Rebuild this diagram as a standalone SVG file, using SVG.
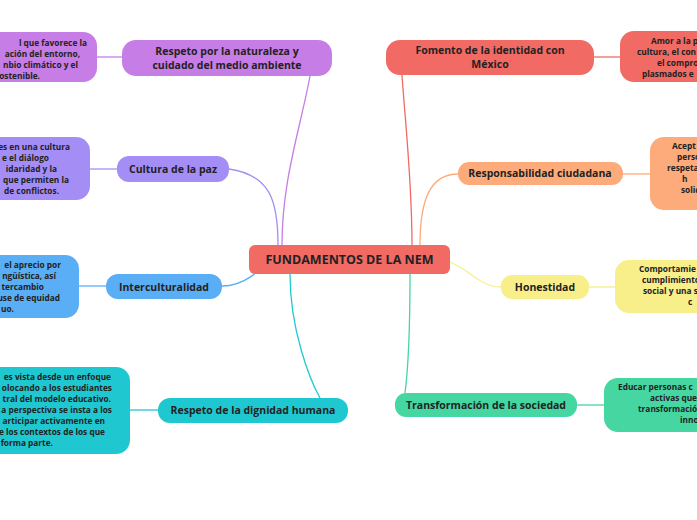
<svg xmlns="http://www.w3.org/2000/svg" width="697" height="520" viewBox="0 0 697 520">
<style>
text{font-family:"Open Sans","Noto Sans",sans-serif;font-weight:bold;fill:#222}
.t{font-size:10.5px;text-anchor:middle}
.l{font-size:8.3px}
.le{text-anchor:end}
.c{fill:none;stroke-width:1.3}
</style>
<rect width="697" height="520" fill="#fff"/>
<g id="connectors">
<path class="c" stroke="#c67de6" d="M282 245 C282 180 300 130 310 76"/>
<path class="c" stroke="#a48ef5" d="M278 245 C278 200 270 175 229 169"/>
<path class="c" stroke="#5aaef5" d="M262 274 L262 274 M270 259 C260 270 245 286 222 286"/>
<path class="c" stroke="#1fc8d0" d="M290 274 C290 330 310 380 320 398"/>
<path class="c" stroke="#f26a64" d="M412 245 C412 180 405 120 402 75"/>
<path class="c" stroke="#fdab7a" d="M420 245 C420 200 430 174 458 174"/>
<path class="c" stroke="#f8ef8a" d="M450 262 C470 270 480 287 501 287"/>
<path class="c" stroke="#45d6a2" d="M410 274 C410 330 408 370 405 393"/>
<line x1="97" y1="57" x2="122" y2="57" stroke="#c67de6" stroke-width="1.3"/>
<line x1="90" y1="169" x2="117" y2="169" stroke="#a48ef5" stroke-width="1.3"/>
<line x1="79" y1="286" x2="106" y2="286" stroke="#5aaef5" stroke-width="1.3"/>
<line x1="130" y1="410" x2="158" y2="410" stroke="#1fc8d0" stroke-width="1.3"/>
<line x1="594" y1="57" x2="620" y2="57" stroke="#f26a64" stroke-width="1.3"/>
<line x1="623" y1="174" x2="650" y2="174" stroke="#fdab7a" stroke-width="1.3"/>
<line x1="589" y1="287" x2="615" y2="287" stroke="#f8ef8a" stroke-width="1.3"/>
<line x1="577" y1="405" x2="604" y2="405" stroke="#45d6a2" stroke-width="1.3"/>
</g>
<g id="center"><rect x="249" y="245" width="201" height="29" rx="6" fill="#f26a64"/><text x="349.5" y="264" text-anchor="middle" font-size="12.5">FUNDAMENTOS DE LA NEM</text></g>
<g id="t1"><rect x="122" y="40" width="210" height="36" rx="14" fill="#c67de6"/><text class="t" x="227" y="55">Respeto por la naturaleza y</text><text class="t" x="227" y="69">cuidado del medio ambiente</text></g>
<g id="t2"><rect x="117" y="156" width="112" height="26" rx="12" fill="#a48ef5"/><text class="t" x="173" y="173">Cultura de la paz</text></g>
<g id="t3"><rect x="106" y="274" width="116" height="25" rx="12" fill="#5aaef5"/><text class="t" x="164" y="291">Interculturalidad</text></g>
<g id="t4"><rect x="158" y="398" width="190" height="25" rx="12" fill="#1fc8d0"/><text class="t" x="253" y="414">Respeto de la dignidad humana</text></g>
<g id="t5"><rect x="386" y="40" width="208" height="35" rx="14" fill="#f26a64"/><text class="t" x="490" y="54">Fomento de la identidad con</text><text class="t" x="490" y="68">México</text></g>
<g id="t6"><rect x="458" y="162" width="165" height="23" rx="11" fill="#fdab7a"/><text class="t" x="540" y="177">Responsabilidad ciudadana</text></g>
<g id="t7"><rect x="501" y="275" width="88" height="24" rx="11" fill="#f8ef8a"/><text class="t" x="545" y="291">Honestidad</text></g>
<g id="t8"><rect x="395" y="393" width="182" height="24" rx="11" fill="#45d6a2"/><text class="t" x="486" y="409">Transformación de la sociedad</text></g>
<g id="l1"><rect x="-30" y="32" width="127" height="50" rx="14" fill="#c67de6"/>
<text class="l le" x="87" y="46">l que favorece  la</text><text class="l le" x="80" y="57">ación del entorno,</text><text class="l le" x="78" y="68">nbio climático y el</text><text class="l le" x="40" y="79">ostenible.</text></g>
<g id="l2"><rect x="-30" y="137" width="120" height="63" rx="14" fill="#a48ef5"/>
<text class="l le" x="70" y="150">es en una cultura</text><text class="l le" x="49" y="161">e el diálogo</text><text class="l le" x="57" y="172">idaridad y la</text><text class="l le" x="69" y="183">que permiten la</text><text class="l le" x="59" y="194">de conflictos.</text></g>
<g id="l3"><rect x="-30" y="255" width="109" height="63" rx="14" fill="#5aaef5"/>
<text class="l le" x="61" y="268">el aprecio por</text><text class="l le" x="56" y="279">ngüística, así</text><text class="l le" x="44" y="290">tercambio</text><text class="l le" x="60" y="301">use de equidad</text><text class="l le" x="14" y="312">uo.</text></g>
<g id="l4"><rect x="-30" y="367" width="160" height="87" rx="14" fill="#1fc8d0"/>
<text class="l le" x="111" y="380">es vista desde un enfoque</text><text class="l le" x="112" y="391">olocando a los estudiantes</text><text class="l le" x="111" y="402">tral del modelo educativo.</text><text class="l le" x="112" y="413">a perspectiva se insta a los</text><text class="l le" x="105" y="424">articipar activamente en</text><text class="l le" x="105" y="435">e los contextos de los que</text><text class="l le" x="53" y="446">forma parte.</text></g>
<g id="l5"><rect x="620" y="31" width="110" height="51" rx="14" fill="#f26a64"/>
<text class="l" x="651" y="44">Amor a la p</text><text class="l" x="637" y="55">cultura, el con</text><text class="l" x="657" y="66">el compro</text><text class="l" x="642" y="77">plasmados e</text></g>
<g id="l6"><rect x="650" y="137" width="80" height="73" rx="14" fill="#fdab7a"/>
<text class="l" x="672" y="149">Acept</text><text class="l" x="677" y="160">perso</text><text class="l" x="667" y="171">respeta</text><text class="l" x="682" y="182">h</text><text class="l" x="681" y="193">solid</text></g>
<g id="l7"><rect x="615" y="260" width="110" height="53" rx="14" fill="#f8ef8a"/>
<text class="l" x="639" y="272">Comportamie</text><text class="l" x="642" y="283">cumplimiento</text><text class="l" x="643" y="294">social y una s</text><text class="l" x="688" y="305">c</text></g>
<g id="l8"><rect x="604" y="378" width="110" height="54" rx="14" fill="#45d6a2"/>
<text class="l" x="618" y="390">Educar personas c</text><text class="l" x="650" y="401">activas que</text><text class="l" x="638" y="412">transformació</text><text class="l" x="680" y="423">inno</text></g>
</svg>
